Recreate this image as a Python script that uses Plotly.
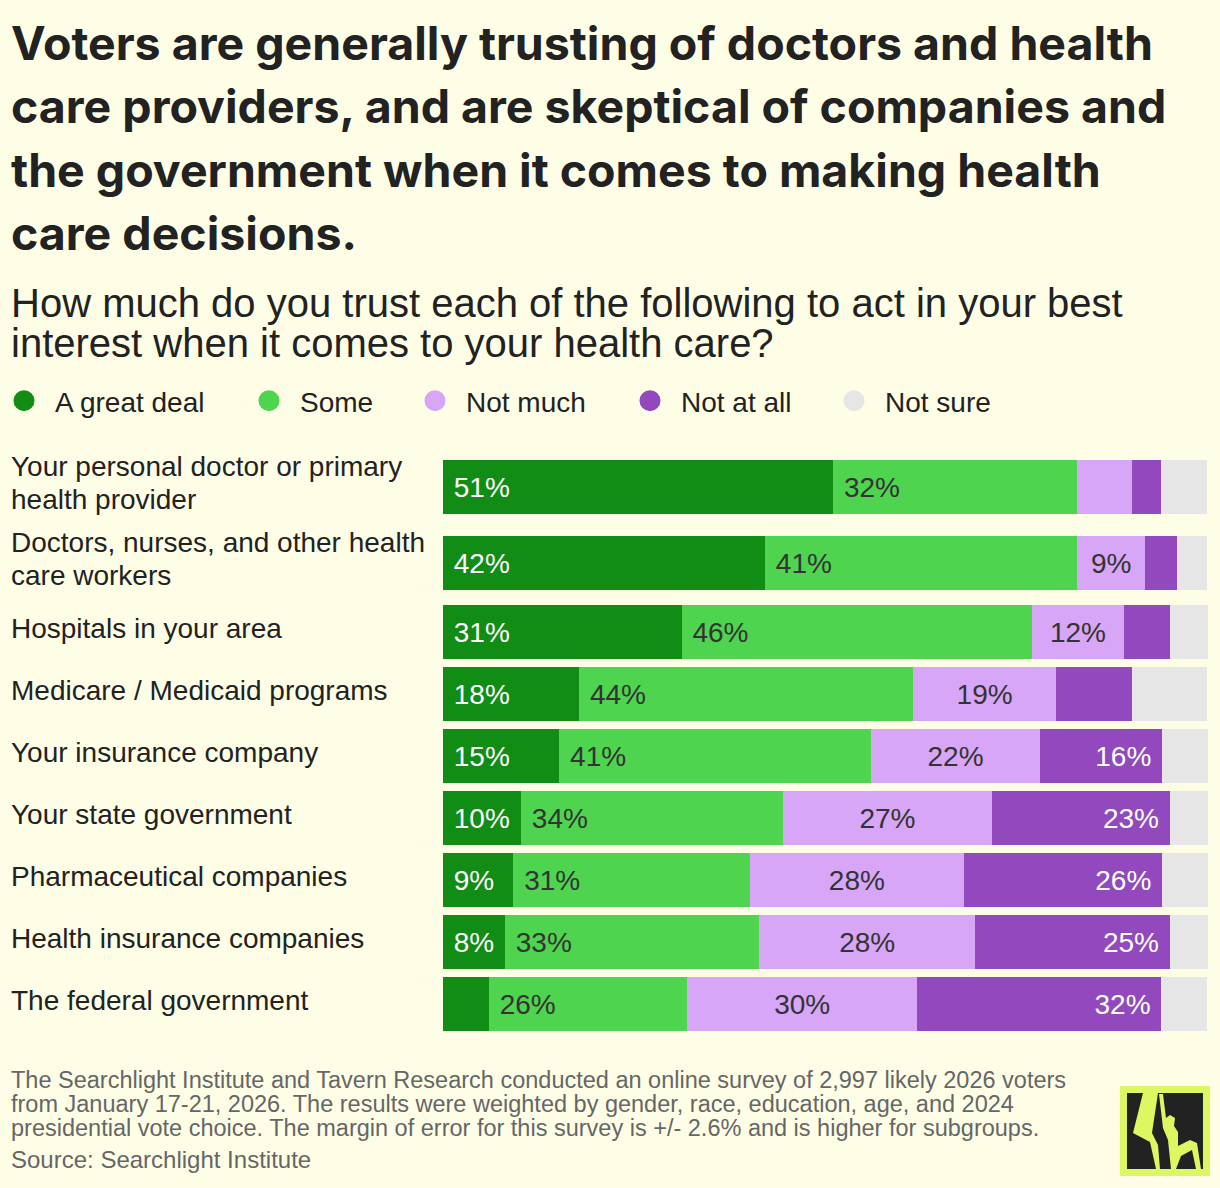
import textwrap
import plotly.graph_objects as go

# ---------------- data ----------------
categories = [
    "Your personal doctor or primary health provider",
    "Doctors, nurses, and other health care workers",
    "Hospitals in your area",
    "Medicare / Medicaid programs",
    "Your insurance company",
    "Your state government",
    "Pharmaceutical companies",
    "Health insurance companies",
    "The federal government",
]
great_deal = [51.0, 42.1, 31.2, 17.8, 15.2, 10.2, 9.2, 8.1, 6.0]
some = [31.9, 40.8, 45.8, 43.7, 40.8, 34.3, 30.9, 33.2, 25.9]
not_much = [7.1, 8.9, 12.0, 18.6, 22.0, 27.2, 28.0, 28.3, 30.1]
not_at_all = [3.9, 4.2, 6.0, 9.9, 16.0, 23.3, 25.9, 25.4, 31.9]
not_sure = [6.0, 3.9, 5.0, 9.9, 6.0, 5.0, 6.0, 5.0, 6.0]
series_names = ["A great deal", "Some", "Not much", "Not at all", "Not sure"]

MIN_LABEL = 8
HIDDEN_LABELS = {("Medicare / Medicaid programs", "Not at all")}

title_lines = [
    "Voters are generally trusting of doctors and health",
    "care providers, and are skeptical of companies and",
    "the government when it comes to making health",
    "care decisions.",
]
subtitle_lines = [
    "How much do you trust each of the following to act in your best",
    "interest when it comes to your health care?",
]
footnote_lines = [
    "The Searchlight Institute and Tavern Research conducted an online survey of 2,997 likely 2026 voters",
    "from January 17-21, 2026. The results were weighted by gender, race, education, age, and 2024",
    "presidential vote choice. The margin of error for this survey is +/- 2.6% and is higher for subgroups.",
]
source_line = "Source: Searchlight Institute"

# ---------------- style / layout ----------------
W, H = 1220, 1188
BG = "#FEFEE7"
COLORS = ["#118C14", "#4FD450", "#D7A6F6", "#9249BE", "#E6E6E6"]
TEXT_COLORS = ["#FFFFFF", "#333333", "#333333", "#FFFFFF", "#333333"]
ANCHORS = ["start", "start", "middle", "end", "middle"]
BODY_FONT = "Liberation Sans, Arial, Helvetica, sans-serif"
TITLE_FONT = "Inter, Liberation Sans, sans-serif"
LINE_SPACING = 1.3  # plotly's multi-line factor

ML, MR = 443, 12
ROW_BASE, ROW_EXTRA, BAR_H = 62, 14, 54

wrapped = [textwrap.wrap(c, 33) for c in categories]
row_h = [ROW_BASE + ROW_EXTRA * (len(w) - 1) for w in wrapped]
centers = []
acc = 0
for h in row_h:
    centers.append(acc + h / 2)
    acc += h
TOTAL = acc
MT = 449
MB = H - MT - TOTAL
PW = W - ML - MR
PH = TOTAL


def px_x(px):
    return (px - ML) / PW


def px_y(py):
    return 1 - (py - MT) / PH


def block(lines, size):
    """Multi-line text whose glyphs use `size` px, lines spaced by the base font."""
    return "<br>".join(f"<span style='font-size:{size}px'>{ln}</span>" for ln in lines)


series = [great_deal, some, not_much, not_at_all, not_sure]

fig = go.Figure()
for k, (name, vals) in enumerate(zip(series_names, series)):
    texts = []
    for cat, v in zip(categories, vals):
        show = name != "Not sure" and v >= MIN_LABEL and (cat, name) not in HIDDEN_LABELS
        if not show:
            texts.append("")
        elif ANCHORS[k] == "start":
            texts.append("\u00a0" + f"{round(v)}%")
        elif ANCHORS[k] == "end":
            texts.append(f"{round(v)}%" + "\u00a0")
        else:
            texts.append(f"{round(v)}%")
    fig.add_trace(go.Bar(
        x=vals, y=centers, orientation="h", width=BAR_H, name=name,
        marker=dict(color=COLORS[k], line=dict(width=0)),
        text=texts, textposition="inside", insidetextanchor=ANCHORS[k],
        textfont=dict(family=BODY_FONT, size=28, color=TEXT_COLORS[k]),
        showlegend=False, hoverinfo="skip",
    ))

# legend (one small legend per entry so spacing can follow the original)
LEGEND_CX = [24, 269, 435, 650, 854]
LEGEND_CY = 401
for k, name in enumerate(series_names):
    lg = "legend" if k == 0 else f"legend{k + 1}"
    fig.add_trace(go.Scatter(
        x=[None], y=[None], mode="markers", name=name, legend=lg,
        marker=dict(size=16, color=COLORS[k], line=dict(width=5, color=COLORS[k])),
        hoverinfo="skip",
    ))

legend_common = dict(
    orientation="h", xref="paper", yref="paper", xanchor="left", yanchor="middle",
    bgcolor="rgba(0,0,0,0)", borderwidth=0, itemwidth=52,
    font=dict(family=BODY_FONT, size=28, color="#222222"), itemclick=False, itemdoubleclick=False,
)
legend_layout = {}
for k in range(5):
    key = "legend" if k == 0 else f"legend{k + 1}"
    legend_layout[key] = dict(legend_common, x=px_x(LEGEND_CX[k] - 31), y=px_y(LEGEND_CY))

annotations = []
# title lines
TITLE_BASELINES = [60, 123, 187, 250]
TITLE_SIZE = 46.5
for line, b in zip(title_lines, TITLE_BASELINES):
    annotations.append(dict(
        text=line, xref="paper", yref="paper", x=px_x(9), y=px_y(b - 0.363 * TITLE_SIZE),
        xanchor="left", yanchor="middle", showarrow=False,
        font=dict(family=TITLE_FONT, size=TITLE_SIZE, color="#222222", weight=700),
    ))
# subtitle (two lines, 40 px apart)
SUB_SIZE, SUB_GAP = 40, 40
annotations.append(dict(
    text=block(subtitle_lines, SUB_SIZE), xref="paper", yref="paper", x=px_x(9), y=px_y(323),
    xanchor="left", yanchor="middle", align="left", showarrow=False,
    font=dict(family=BODY_FONT, size=SUB_GAP / LINE_SPACING, color="#222222"),
))
# category labels
CAT_SIZE, CAT_GAP = 28, 33
for lines, c in zip(wrapped, centers):
    annotations.append(dict(
        text=block(lines, CAT_SIZE), xref="paper", yref="y", x=px_x(9), y=c - 4,
        xanchor="left", yanchor="middle", align="left", showarrow=False,
        font=dict(family=BODY_FONT, size=CAT_GAP / LINE_SPACING, color="#222222"),
    ))
# footnote paragraph (tight line spacing) and source
FOOT_SIZE, FOOT_GAP = 23.5, 24
SOURCE_SIZE = 24
annotations.append(dict(
    text=block(footnote_lines, FOOT_SIZE), xref="paper", yref="paper", x=px_x(9), y=px_y(1103.5),
    xanchor="left", yanchor="middle", align="left", showarrow=False,
    font=dict(family=BODY_FONT, size=FOOT_GAP / LINE_SPACING, color="#666666"),
))
annotations.append(dict(
    text=source_line, xref="paper", yref="paper", x=px_x(9), y=px_y(1168 - 0.3465 * SOURCE_SIZE),
    xanchor="left", yanchor="middle", showarrow=False,
    font=dict(family=BODY_FONT, size=SOURCE_SIZE, color="#666666"),
))

# logo (decorative)
LIME = "#DDF763"
DARK = "#222222"


def path(points):
    return "M " + " L ".join(f"{px_x(x):.5f},{px_y(y):.5f}" for x, y in points) + " Z"


shapes = [
    dict(type="rect", xref="paper", yref="paper", x0=px_x(1120), x1=px_x(1210),
         y0=px_y(1176), y1=px_y(1086), fillcolor=LIME, line=dict(width=0), layer="above"),
    dict(type="rect", xref="paper", yref="paper", x0=px_x(1127), x1=px_x(1203),
         y0=px_y(1169), y1=px_y(1093), fillcolor=DARK, line=dict(width=0), layer="above"),
    dict(type="path", xref="paper", yref="paper",
         path=path([(1143, 1093), (1158, 1093), (1152, 1133), (1158, 1145), (1160, 1169),
                    (1156, 1169), (1150, 1142), (1133, 1133)]),
         fillcolor=LIME, line=dict(width=0), layer="above"),
    dict(type="path", xref="paper", yref="paper",
         path=path([(1159, 1094), (1163, 1094), (1166, 1118), (1170, 1115), (1175, 1118),
                    (1174, 1126), (1178, 1132), (1178, 1146), (1190, 1140), (1197, 1143),
                    (1201, 1169), (1196, 1169), (1192, 1150), (1181, 1156), (1176, 1169),
                    (1171, 1169), (1168, 1140), (1163, 1128)]),
         fillcolor=LIME, line=dict(width=0), layer="above"),
]

fig.update_layout(
    width=W, height=H, paper_bgcolor=BG, plot_bgcolor=BG,
    margin=dict(l=ML, r=MR, t=MT, b=MB, pad=0, autoexpand=False),
    barmode="stack", showlegend=True,
    xaxis=dict(range=[0, 100], visible=False, fixedrange=True),
    yaxis=dict(range=[TOTAL, 0], visible=False, fixedrange=True),
    annotations=annotations, shapes=shapes,
    uniformtext=dict(mode="show", minsize=10),
    **legend_layout,
)

fig.write_html("out.html", config={"displayModeBar": False})
